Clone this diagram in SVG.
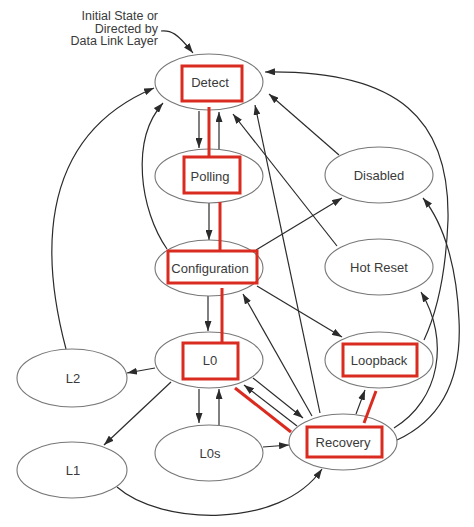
<svg xmlns="http://www.w3.org/2000/svg" width="474" height="527" viewBox="0 0 474 527">
<defs>
<marker id="ah" markerUnits="userSpaceOnUse" markerWidth="10" markerHeight="7" refX="10" refY="3.5" orient="auto">
<path d="M0,0 L10,3.5 L0,7 z" fill="#2b2b2b"/>
</marker>
<style>
.st ellipse{fill:#fff;stroke:#777;stroke-width:1.1}
.st text{font-family:"Liberation Sans",Arial,sans-serif;font-size:13px;fill:#3a3a3a;text-anchor:middle}
.hl{fill:none;stroke:#d92b1f;stroke-width:3}
.cn path{fill:none;stroke:#2b2b2b;stroke-width:1.2;marker-end:url(#ah)}
.rl line{stroke:#d92b1f;stroke-width:3}
.lbl{font-family:"Liberation Sans",Arial,sans-serif;font-size:12.5px;fill:#3a3a3a;text-anchor:end}
</style>
</defs>
<rect width="474" height="527" fill="#fff"/>
<text class="lbl" x="158" y="20">Initial State or</text>
<text class="lbl" x="158" y="32.5">Directed by</text>
<text class="lbl" x="158" y="45">Data Link Layer</text>
<g id="connectors" class="cn">
<path d="M161,31 C171,30 177,33 193,53"/>
<path d="M199,111 L199,148"/>
<path d="M219,149 L219,112"/>
<path d="M209,203 L209,240"/>
<path d="M208,296 L208,331"/>
<path d="M155,368 L127,373"/>
<path d="M66,349 C45,270 30,140 154,88"/>
<path d="M167,249 C140,210 130,140 163,103"/>
<path d="M256,250 L342,198"/>
<path d="M339,155 L269,94"/>
<path d="M337,246 L233,114"/>
<path d="M320,413 L255,105"/>
<path d="M312,416 L243,294"/>
<path d="M257,286 L342,337"/>
<path d="M253,378 L303,418"/>
<path d="M297,426 L244,385"/>
<path d="M199,389 L199,423"/>
<path d="M219,425 L219,389"/>
<path d="M263,447 L289,445"/>
<path d="M171,382 L104,445"/>
<path d="M117,487 C160,525 280,530 322,469"/>
<path d="M356,414 L365,390"/>
<path d="M424,340 C438,310 446,270 448,220 C450,120 400,70 265,72"/>
<path d="M397,440 C440,420 462,380 459,320 C457,270 445,225 423,198"/>
<path d="M394,428 C440,400 450,340 421,292"/>
</g>
<g id="detect" class="st"><ellipse cx="209" cy="82" rx="54" ry="28"/><text x="210" y="87">Detect</text><rect class="hl" x="182" y="66" width="60" height="35"/></g>
<g id="polling" class="st"><ellipse cx="209" cy="176" rx="54" ry="27"/><text x="210" y="181">Polling</text><rect class="hl" x="184" y="157" width="56" height="36"/></g>
<g id="configuration" class="st"><ellipse cx="209" cy="268" rx="54" ry="28"/><text x="210" y="273">Configuration</text><rect class="hl" x="168" y="251" width="89" height="32"/></g>
<g id="disabled" class="st"><ellipse cx="379" cy="175" rx="54" ry="28"/><text x="379" y="180">Disabled</text></g>
<g id="hotreset" class="st"><ellipse cx="379" cy="267" rx="54" ry="28"/><text x="379" y="272">Hot Reset</text></g>
<g id="l0" class="st"><ellipse cx="209" cy="360" rx="54" ry="28"/><text x="210" y="365">L0</text><rect class="hl" x="183" y="343" width="55" height="36"/></g>
<g id="l2" class="st"><ellipse cx="72" cy="378" rx="55" ry="29"/><text x="73" y="383">L2</text></g>
<g id="loopback" class="st"><ellipse cx="379" cy="360" rx="54" ry="28"/><text x="379" y="365">Loopback</text><rect class="hl" x="343" y="344" width="74" height="32"/></g>
<g id="l1" class="st"><ellipse cx="72" cy="470" rx="55" ry="28"/><text x="73" y="475">L1</text></g>
<g id="l0s" class="st"><ellipse cx="209" cy="453" rx="54" ry="28"/><text x="210" y="458">L0s</text></g>
<g id="recovery" class="st"><ellipse cx="343" cy="442" rx="54" ry="28"/><text x="343" y="447">Recovery</text><rect class="hl" x="307" y="427" width="75" height="30"/></g>
<g id="redpath" class="rl">
<line x1="209" y1="107" x2="209" y2="157"/>
<line x1="220" y1="202" x2="220" y2="251"/>
<line x1="222" y1="288" x2="222" y2="343"/>
<line x1="235" y1="388" x2="291" y2="432"/>
<line x1="376" y1="391" x2="364" y2="423"/>
</g>
</svg>
